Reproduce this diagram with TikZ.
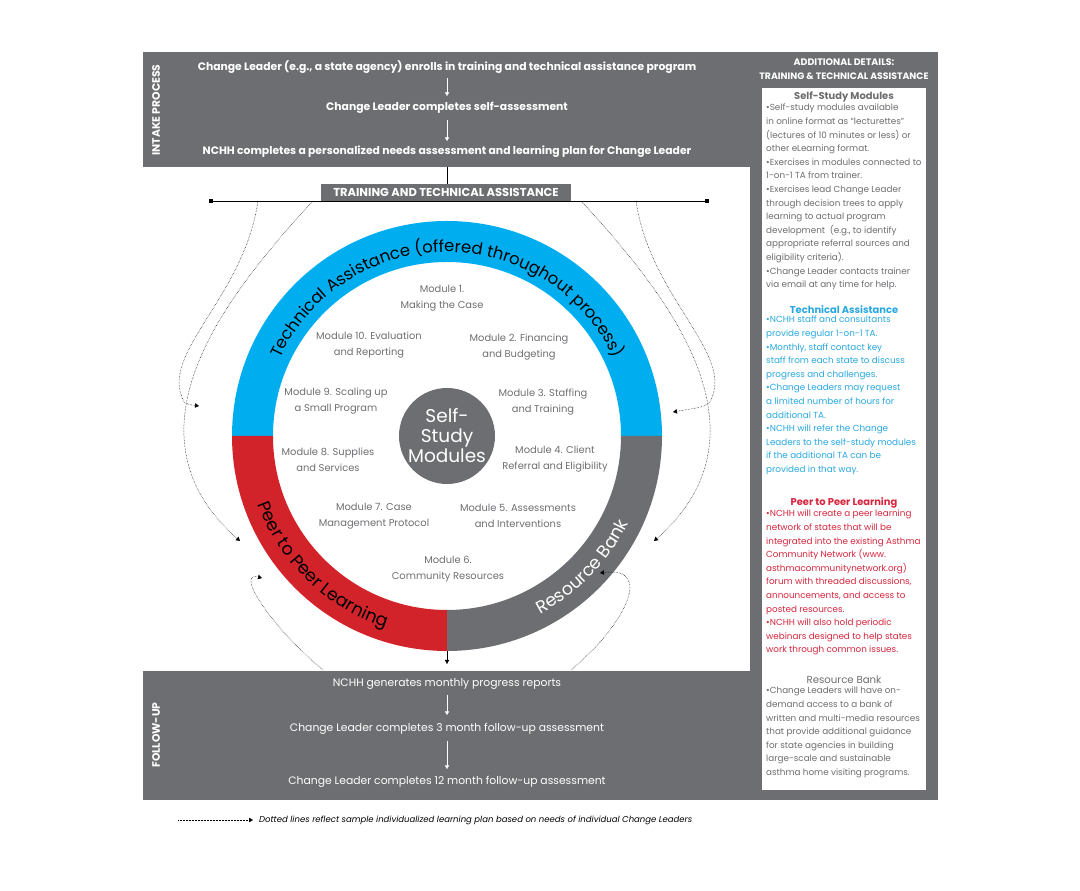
\documentclass[tikz,border=0pt]{standalone}
\usepackage{fontspec}
\setmainfont{Poppins}
\usetikzlibrary{arrows.meta,decorations.text}
\definecolor{dg}{HTML}{6D6E71}
\definecolor{tblue}{HTML}{00AEEF}
\definecolor{tred}{HTML}{D2232A}
\definecolor{pblue}{HTML}{29A8E0}
\definecolor{pred}{HTML}{D7263D}
\newcommand{\fs}[2]{\fontsize{#1}{#2}\selectfont}
\begin{document}
\begin{tikzpicture}[x=1pt,y=1pt,
  box/.style={fill=dg,draw=none},
  wt/.style={text=white,font=\bfseries\fs{10.8}{12},inner sep=0pt},
  ft/.style={text=white,font=\fs{10.8}{12},inner sep=0pt},
  flow/.style={white,-{Triangle[width=4pt,length=3.5pt]}},
  mod/.style={text=dg,font=\fs{9.9}{16},align=center,inner sep=0pt},
  pan/.style={anchor=north west,align=left,inner sep=0pt,font=\fs{8.8}{13.6}},
  ptit/.style={font=\bfseries\fs{9.9}{11},inner sep=0pt},
  dot/.style={densely dotted,line width=0.5pt,-{Triangle[width=4.5pt,length=4pt]}}]
\useasboundingbox (0,0) rectangle (1080,891);
% boxes
\fill[box] (143,724) rectangle (750,839);
\fill[box] (750,91) rectangle (938,839);
\fill[box] (143,91) rectangle (750,220);
\fill[white] (762,101) rectangle (926,803);
% side labels
\node[rotate=90,text=white,font=\bfseries\fs{10.8}{12}] (lip) at (156,781) {INTAKE PROCESS};
\node[rotate=90,text=white,font=\bfseries\fs{10.8}{12}] (lfu) at (156,156) {FOLLOW-UP};
% intake
\node[wt] (i1) at (447,824) {Change Leader (e.g., a state agency) enrolls in training and technical assistance program};
\node[wt] (i2) at (447,783) {Change Leader completes self-assessment};
\node[wt] (i3) at (447,739) {NCHH completes a personalized needs assessment and learning plan for Change Leader};
\draw[flow] (447,813) -- (447,795);
\draw[flow] (447,771) -- (447,750);
% TTA
\node[fill=dg,text=white,font=\bfseries\fs{11.5}{12},minimum width=250pt,minimum height=17pt,inner sep=0pt] (tta) at (446,698.5) {TRAINING AND TECHNICAL ASSISTANCE};
\coordinate (ib) at (447,724);
\draw[line width=0.8pt] (ib) -- (tta.north-|ib);
\coordinate (hl) at (211,690);
\coordinate (hr) at (707,690);
\draw[line width=0.9pt] (hl) -- (hr);
\fill (hl) ++(-2,-2) rectangle ++(4,4);
\fill (hr) ++(-2,-2) rectangle ++(4,4);
% ring
\begin{scope}[shift={(447,455)}]
\fill[tblue] (0:215) arc[start angle=0,end angle=180,radius=215] -- (180:174) arc[start angle=180,end angle=0,radius=174] -- cycle;
\fill[tred] (180:215) arc[start angle=180,end angle=270,radius=215] -- (270:174) arc[start angle=270,end angle=180,radius=174] -- cycle;
\fill[dg] (270:215) arc[start angle=270,end angle=360,radius=215] -- (360:174) arc[start angle=360,end angle=270,radius=174] -- cycle;
\path[decorate,decoration={text along path,text align=center,text color=black,
  text={|\fs{16.5}{16}|Technical Assistance (offered throughout process)}}]
  (160:184) arc[start angle=160,end angle=20,radius=184];
\path[decorate,decoration={text along path,text align=center,text color=black,
  text={|\fs{17.5}{17}|Peer to Peer Learning}}]
  (183:201) arc[start angle=183,end angle=269,radius=201];
\path[decorate,decoration={text along path,text align=center,text color=white,
  text={|\fs{17.5}{17}|Resource Bank}}]
  (278:201) arc[start angle=278,end angle=354,radius=201];
\node[circle,fill=dg,minimum size=96pt,inner sep=0pt,text=white,align=center,font=\fs{18.5}{20}] (ssm) at (0,0) {Self-\\Study\\Modules};
\coordinate (rb) at (0,-215);
\end{scope}
\draw[-{Triangle[width=4pt,length=4pt]}] (rb) -- (447,227);
% modules
\node[mod] (m1) at (442,593) {Module 1.\\Making the Case};
\node[mod] (m10) at (369,546) {Module 10. Evaluation\\and Reporting};
\node[mod] (m2) at (519,544) {Module 2. Financing\\and Budgeting};
\node[mod] (m9) at (336,490) {Module 9. Scaling up\\a Small Program};
\node[mod] (m3) at (543,489) {Module 3. Staffing\\and Training};
\node[mod] (m8) at (328,431) {Module 8. Supplies\\and Services};
\node[mod] (m4) at (555,432) {Module 4. Client\\Referral and Eligibility};
\node[mod] (m7) at (374,375) {Module 7. Case\\Management Protocol};
\node[mod] (m5) at (518,375) {Module 5. Assessments\\and Interventions};
\node[mod] (m6) at (448,322) {Module 6.\\Community Resources};
% dotted learning-plan curves
\coordinate (ta) at (258,690); \coordinate (tb) at (313,690);
\coordinate (tc) at (581,690); \coordinate (td) at (636,690);
\coordinate (fa) at (323,221); \coordinate (fb) at (571,221);
\draw[dot] (ta) .. controls (245,600) and (170,545) .. (180,500) .. controls (184,487) .. (199,485);
\draw[dot] (tb) .. controls (230,600) and (115,460) .. (240,350);
\draw[dot] (tc) .. controls (664,600) and (779,460) .. (654,350);
\draw[dot] (td) .. controls (649,600) and (724,545) .. (714,500) .. controls (710,485) .. (673,479);
\draw[dot] (fa) .. controls (270,265) and (235,320) .. (262,313);
\draw[dot] (fb) .. controls (624,265) and (655,325) .. (600,318);
% follow-up
\node[ft] (f1) at (447,207) {NCHH generates monthly progress reports};
\node[ft] (f2) at (447,162) {Change Leader completes 3 month follow-up assessment};
\node[ft] (f3) at (447,109) {Change Leader completes 12 month follow-up assessment};
\draw[flow] (447,196) -- (447,176);
\draw[flow] (447,150) -- (447,122);
% right panel
\node[text=white,font=\bfseries\fs{9.5}{10},inner sep=0pt] (h1) at (844,829) {ADDITIONAL DETAILS:};
\node[text=white,font=\bfseries\fs{9.3}{10},inner sep=0pt] (h2) at (844,815) {TRAINING \& TECHNICAL ASSISTANCE};
\node[ptit,text=dg] (t1) at (844,794) {Self-Study Modules};
\node[pan,text=dg] (b1) at (766,787) {•Self-study modules available\\in online format as “lecturettes”\\(lectures of 10 minutes or less) or\\other eLearning format.\\•Exercises in modules connected to\\1-on-1 TA from trainer.\\•Exercises lead Change Leader\\through decision trees to apply\\learning to actual program\\development\ \ (e.g., to identify\\appropriate referral sources and\\eligibility criteria).\\•Change Leader contacts trainer\\via email at any time for help.};
\node[ptit,text=pblue] (t2) at (844,581) {Technical Assistance};
\node[pan,text=pblue] (b2) at (766,575) {•NCHH staff and consultants\\provide regular 1-on-1 TA.\\•Monthly, staff contact key\\staff from each state to discuss\\progress and challenges.\\•Change Leaders may request\\a limited number of hours for\\additional TA.\\•NCHH will refer the Change\\Leaders to the self-study modules\\if the additional TA can be\\provided in that way.};
\node[ptit,text=pred] (t3) at (844,388) {Peer to Peer Learning};
\node[pan,text=pred] (b3) at (766,381) {•NCHH will create a peer learning\\network of states that will be\\integrated into the existing Asthma\\Community Network (www.\\asthmacommunitynetwork.org)\\forum with threaded discussions,\\announcements, and access to\\posted resources.\\•NCHH will also hold periodic\\webinars designed to help states\\work through common issues.};
\node[text=dg,font=\fs{10.2}{11},inner sep=0pt] (t4) at (844,211) {Resource Bank};
\node[pan,text=dg] (b4) at (766,204) {•Change Leaders will have on-\\demand access to a bank of\\written and multi-media resources\\that provide additional guidance\\for state agencies in building\\large-scale and sustainable\\asthma home visiting programs.};
% legend
\coordinate (l1) at (178,71);
\coordinate (l2) at (253,71);
\draw[dot] (l1) -- (l2);
\node[anchor=west,font=\itshape\fs{8.5}{9},inner sep=0pt] (lg) at (259,71) {Dotted lines reflect sample individualized learning plan based on needs of individual Change Leaders};
\end{tikzpicture}
\end{document}
